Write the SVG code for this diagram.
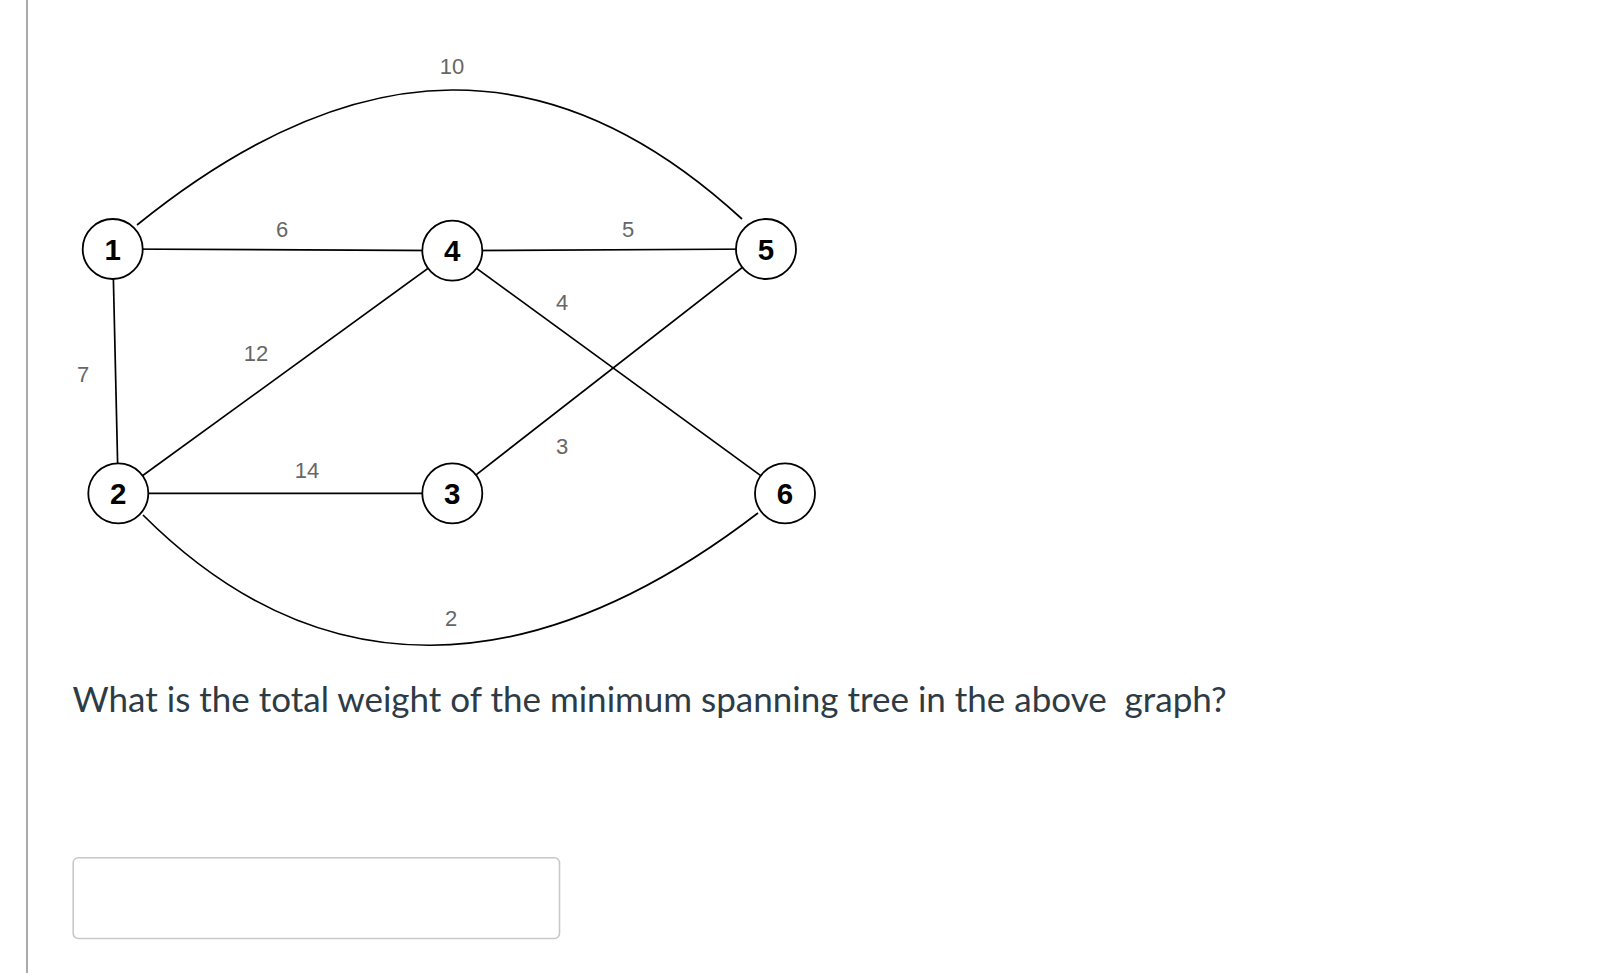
<svg xmlns="http://www.w3.org/2000/svg" width="1621" height="973" viewBox="0 0 1621 973">
<style>
.edge{stroke:#000;stroke-width:1.7;fill:none}
.node circle{fill:#fff;stroke:#000;stroke-width:1.8}
.node text{font-family:"Liberation Sans",Arial,sans-serif;font-weight:bold;font-size:29.5px;text-anchor:middle;fill:#000}
.lbl{font-family:"Liberation Sans",Arial,sans-serif;font-size:22px;text-anchor:middle;fill:#666}
</style>
<rect width="1621" height="973" fill="#fff"/>
<line x1="27" y1="0" x2="27" y2="973" stroke="#aaa" stroke-width="2"/>
<g id="connectors">
<path class="edge" d="M137,225 C358,46 554,46 742,219"/>
<path class="edge" d="M143,515 C318,690 530,688 758,513"/>
<line class="edge" x1="112.7" y1="249" x2="452.3" y2="250.7"/>
<line class="edge" x1="452.3" y1="250.7" x2="766" y2="249"/>
<line class="edge" x1="112.7" y1="249" x2="118.3" y2="493.3"/>
<line class="edge" x1="118.3" y1="493.3" x2="452.3" y2="250.7"/>
<line class="edge" x1="118.3" y1="493.3" x2="452.3" y2="493.3"/>
<line class="edge" x1="452.3" y1="250.7" x2="785" y2="493.3"/>
<line class="edge" x1="452.3" y1="493.3" x2="766" y2="249"/>
</g>
<g id="edge-labels">
<text class="lbl" x="452" y="73.5">10</text>
<text class="lbl" x="282" y="237">6</text>
<text class="lbl" x="628" y="237">5</text>
<text class="lbl" x="562" y="310">4</text>
<text class="lbl" x="256" y="361">12</text>
<text class="lbl" x="83" y="381.5">7</text>
<text class="lbl" x="307" y="478">14</text>
<text class="lbl" x="562" y="454">3</text>
<text class="lbl" x="451" y="625.5">2</text>
</g>
<g id="node1" class="node"><circle cx="112.7" cy="249" r="30"/><text x="112.7" y="259.5">1</text></g>
<g id="node4" class="node"><circle cx="452.3" cy="250.7" r="30"/><text x="452.3" y="261.2">4</text></g>
<g id="node5" class="node"><circle cx="766" cy="249" r="30"/><text x="766" y="259.5">5</text></g>
<g id="node2" class="node"><circle cx="118.3" cy="493.3" r="30"/><text x="118.3" y="503.8">2</text></g>
<g id="node3" class="node"><circle cx="452.3" cy="493.3" r="30"/><text x="452.3" y="503.8">3</text></g>
<g id="node6" class="node"><circle cx="785" cy="493.3" r="30"/><text x="785" y="503.8">6</text></g>
<text x="72.5" y="711.5" font-family="Lato,sans-serif" font-size="35" fill="#2d3b45" xml:space="preserve">What is the total weight of the minimum spanning tree in the above  graph?</text>
<rect x="73.2" y="857.8" width="486.3" height="80.7" rx="5" fill="#fff" stroke="#c8c8c8" stroke-width="1.6"/>
</svg>
